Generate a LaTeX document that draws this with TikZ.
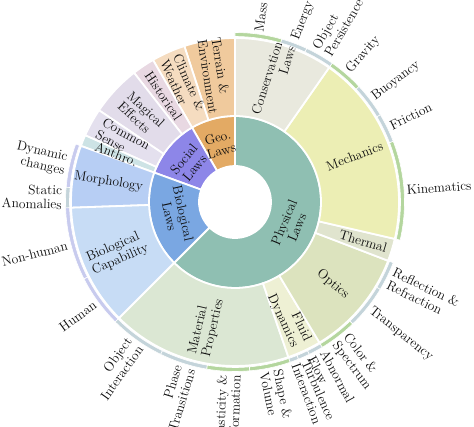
\documentclass[tikz,border=0pt]{standalone}
\usepackage{xcolor}
\definecolor{physcolor}{RGB}{143,191,178}
\definecolor{geocolor}{RGB}{227,170,100}
\definecolor{soccolor}{RGB}{141,134,232}
\definecolor{biocolor}{RGB}{122,167,226}
\definecolor{conscolor}{RGB}{233,233,222}
\definecolor{mechcolor}{RGB}{236,238,180}
\definecolor{thermcolor}{RGB}{224,228,206}
\definecolor{opticcolor}{RGB}{220,227,190}
\definecolor{fluidcolor}{RGB}{238,240,212}
\definecolor{matcolor}{RGB}{219,231,211}
\definecolor{morphcolor}{RGB}{183,206,244}
\definecolor{capcolor}{RGB}{199,220,245}
\definecolor{anthrocolor}{RGB}{205,227,229}
\definecolor{commoncolor}{RGB}{228,224,238}
\definecolor{magiccolor}{RGB}{226,220,234}
\definecolor{histcolor}{RGB}{232,216,226}
\definecolor{climcolor}{RGB}{245,220,192}
\definecolor{terrcolor}{RGB}{240,202,157}
\definecolor{leafgreen}{RGB}{180,214,158}
\definecolor{leafgrey}{RGB}{196,212,218}
\definecolor{leaflav}{RGB}{200,203,238}
\newcommand{\lblfont}{\fontsize{13.5}{14}\selectfont}
% annular wedge: start angle, end angle, inner radius, outer radius, colour
\newcommand{\ringwedge}[5]{%
  \filldraw[fill=#5] (#1:#3) -- (#1:#4)
    arc[start angle=#1, end angle=#2, radius=#4] -- (#2:#3)
    arc[start angle=#2, end angle=#1, radius=#3] -- cycle;}
\tikzset{
  wedge/.style  = {draw=white, line width=1.8pt},
  rim/.style    = {draw=white, line width=0.6pt},
  inlab/.style  = {font=\lblfont, align=center, inner sep=0pt, text=black!95},
  midlab/.style = {font=\lblfont, inner sep=0pt, text=black!95},
  leafr/.style  = {font=\lblfont, inner sep=0pt, text=black!95, anchor=west, align=left},
  leafl/.style  = {font=\lblfont, inner sep=0pt, text=black!95, anchor=east, align=right},
}

\begin{document}
\begin{tikzpicture}
\useasboundingbox (-235pt,-225pt) rectangle (239pt,202pt);

% inner ring
\begin{scope}[wedge]
\ringwedge{-135}{90}{36pt}{86pt}{physcolor}
\ringwedge{90}{120}{36pt}{86pt}{geocolor}
\ringwedge{120}{160}{36pt}{86pt}{soccolor}
\ringwedge{160}{225}{36pt}{86pt}{biocolor}
\end{scope}
\node[inlab, rotate=67.5] (physical) at (-22.5:60pt) {Physical\\Laws};
\node[inlab, rotate=15]   (geo)      at (105:60pt)   {Geo.\\Laws};
\node[inlab, rotate=50]   (social)   at (140:60pt)   {Social\\Laws};
\node[inlab, rotate=-77.5] (bio)     at (192.5:60pt) {Biological\\Laws};

% middle ring
\begin{scope}[wedge]
\ringwedge{-135}{-71}{86pt}{164pt}{matcolor}
\ringwedge{-71}{-59}{86pt}{164pt}{fluidcolor}
\ringwedge{-59}{-21}{86pt}{164pt}{opticcolor}
\ringwedge{-21}{-13}{86pt}{164pt}{thermcolor}
\ringwedge{-13}{55}{86pt}{164pt}{mechcolor}
\ringwedge{55}{90}{86pt}{164pt}{conscolor}
\ringwedge{90}{108}{86pt}{164pt}{terrcolor}
\ringwedge{108}{120}{86pt}{164pt}{climcolor}
\ringwedge{120}{128}{86pt}{164pt}{histcolor}
\ringwedge{128}{146}{86pt}{164pt}{magiccolor}
\ringwedge{146}{156}{86pt}{164pt}{commoncolor}
\ringwedge{156}{160}{86pt}{164pt}{anthrocolor}
\ringwedge{160}{182}{86pt}{164pt}{morphcolor}
\ringwedge{182}{225}{86pt}{164pt}{capcolor}
\end{scope}
\node[midlab, align=left,  rotate=77]   (material)  at (-103:128pt) {Material\\Properties};
\node[midlab, align=right, rotate=-65]  (fluid)     at (-65:128pt)  {Fluid\\Dynamics};
\node[midlab, rotate=-40]               (optics)    at (-40:128pt)  {Optics};
\node[midlab, rotate=-17]               (thermal)   at (-17:134pt)  {Thermal};
\node[midlab, rotate=21]                (mechanics) at (21:128pt)   {Mechanics};
\node[midlab, align=right, rotate=72.5] (conserv)   at (72.5:128pt) {Conservation\\Laws};
\node[midlab, align=left,  rotate=-81]  (terrain)   at (99:128pt)   {Terrain \&\\Environment};
\node[midlab, align=left,  rotate=-66]  (climate)   at (114:128pt)  {Climate \&\\Weather};
\node[midlab, rotate=-56]               (historical) at (124:128pt) {Historical};
\node[midlab, align=left,  rotate=-43]  (magical)   at (137:128pt)  {Magical\\Effects};
\node[midlab, align=left,  rotate=-29]  (common)    at (151:128pt)  {Common\\Sense};
\node[midlab, rotate=-22]               (anthro)    at (158:128pt)  {Anthro.};
\node[midlab, rotate=-9]                (morph)     at (171:128pt)  {Morphology};
\node[midlab, align=left,  rotate=23.5] (capab)     at (203.5:128pt) {Biological\\Capability};

% outer rim
\begin{scope}[rim]
\foreach \st/\en/\cl in {-135/-116/leafgrey, -116/-99.6/leafgrey, -99.6/-85/leafgreen,
    -85/-71/leafgreen, -71/-68/leafgrey, -68/-64/leafgrey, -64/-59/leafgrey,
    -59/-46/leafgreen, -46/-31/leafgrey, -31/-21/leafgrey, -13/21/leafgreen,
    21/31/leafgrey, 31/43/leafgrey, 43/55/leafgreen, 55/65/leafgrey, 65/74/leafgrey,
    74/90/leafgreen, 160/175/leaflav, 175/182/leafgrey, 182/207/leaflav, 207/225/leaflav}{
  \ringwedge{\st}{\en}{165.5pt}{169.5pt}{\cl}
}
\end{scope}

% leaf labels
\node[leafl, rotate=54.5] (objint)   at (-125.5:173pt) {Object\\Interaction};
\node[leafl, rotate=73]   (phase)    at (-107:173pt)   {Phase\\Transitions};
\node[leafl, rotate=88]   (elastic)  at (-92:173pt)    {Elasticity \&\\Deformation};
\node[leafr, rotate=-78]  (shape)    at (-78:173pt)    {Shape \&\\Volume};
\node[leafr, rotate=-69.5] (fluidint) at (-69.5:173pt) {Interaction};
\node[leafr, rotate=-66]  (turb)     at (-66:173pt)    {Turbulence};
\node[leafr, rotate=-61.5] (abnormal) at (-61.5:173pt) {Abnormal\\Flow};
\node[leafr, rotate=-52.5] (color)   at (-52.5:173pt)  {Color \&\\Spectrum};
\node[leafr, rotate=-38.5] (transp)  at (-38.5:173pt)  {Transparency};
\node[leafr, rotate=-26]  (reflect)  at (-26:173pt)    {Reflection \&\\Refraction};
\node[leafr, rotate=4]    (kinem)    at (4:172pt)      {Kinematics};
\node[leafr, rotate=26]   (friction) at (26:173pt)     {Friction};
\node[leafr, rotate=37]   (buoy)     at (37:173pt)     {Buoyancy};
\node[leafr, rotate=49]   (gravity)  at (49:173pt)     {Gravity};
\node[leafr, rotate=60]   (persist)  at (60:173pt)     {Object\\Persistence};
\node[leafr, rotate=69.5] (energy)   at (69.5:173pt)   {Energy};
\node[leafr, rotate=82]   (mass)     at (82:172pt)     {Mass};
\node[leafl, rotate=-12.5] (dynamic) at (167.5:173pt)  {Dynamic\\changes};
\node[leafl, rotate=-1.5] (static)   at (178.5:173pt)  {Static\\Anomalies};
\node[leafl, rotate=14.5] (nonhuman) at (194.5:173pt)  {Non-human};
\node[leafl, rotate=36]   (human)    at (216:173pt)    {Human};
\end{tikzpicture}
\end{document}
